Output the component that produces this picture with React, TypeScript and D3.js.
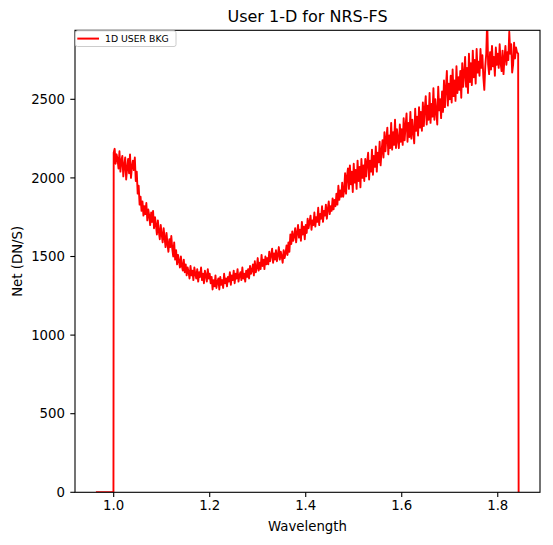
import React from "react";
import * as d3 from "d3";

// ---- data ----
const TITLE = "User 1-D for NRS-FS";
const X_LABEL = "Wavelength";
const Y_LABEL = "Net (DN/S)";
const SERIES_NAME = "1D USER BKG";

const X_TICKS = [1.0, 1.2, 1.4, 1.6, 1.8];
const Y_TICKS = [0, 500, 1000, 1500, 2000, 2500];
const X_DOMAIN = [0.9194, 1.888];
const Y_DOMAIN = [0, 2939];

// leading zero segment before the detector coverage
const LEAD_WAVE = [0.963, 0.9995];
const LEAD_NET = [0, 0];

// sampled spectrum, 1.000 .. 1.838 on the 0.002 wavelength grid
const WAVE_START = 1.0;
const WAVE_STEP = 0.002;
const NET = [
  2160, 2185, 2090, 2150, 2120, 2060, 2170, 2040, 2110, 2140, 2010, 2080, 2130, 1990, 2060, 2120, 2030, 2150, 2000, 2070,
  2110, 2050, 2130, 1980, 2040, 1900, 1950, 1830, 1880, 1790, 1850, 1760, 1820, 1770, 1840, 1730, 1800, 1760, 1700, 1780,
  1720, 1790, 1680, 1750, 1700, 1640, 1730, 1660, 1610, 1700, 1640, 1590, 1680, 1620, 1560, 1650, 1580, 1530, 1610, 1560,
  1630, 1550, 1500, 1590, 1480, 1540, 1450, 1510, 1470, 1430, 1500, 1440, 1410, 1480, 1400, 1450, 1380, 1430, 1400, 1360,
  1440, 1380, 1410, 1350, 1430, 1390, 1360, 1420, 1340, 1400, 1370, 1430, 1350, 1390, 1330, 1410, 1380, 1340, 1420, 1360,
  1390, 1330, 1370, 1290, 1350, 1310, 1380, 1300, 1340, 1360, 1290, 1370, 1320, 1350, 1300, 1390, 1330, 1360, 1310, 1370,
  1340, 1400, 1320, 1380, 1350, 1410, 1330, 1390, 1360, 1420, 1340, 1380, 1400, 1350, 1430, 1360, 1390, 1340, 1410, 1370,
  1420, 1360, 1440, 1390, 1410, 1450, 1380, 1470, 1400, 1430, 1490, 1410, 1460, 1420, 1510, 1440, 1480, 1420, 1500, 1450,
  1490, 1450, 1530, 1470, 1510, 1550, 1460, 1520, 1480, 1540, 1470, 1510, 1560, 1480, 1530, 1500, 1460, 1540, 1490, 1520,
  1570, 1510, 1590, 1530, 1640, 1580, 1660, 1600, 1630, 1680, 1590, 1650, 1700, 1620, 1670, 1600, 1720, 1640, 1690, 1610,
  1700, 1650, 1740, 1680, 1720, 1760, 1670, 1730, 1700, 1780, 1690, 1750, 1720, 1810, 1700, 1770, 1740, 1820, 1720, 1790,
  1760, 1830, 1740, 1800, 1850, 1770, 1820, 1790, 1870, 1800, 1860, 1820, 1900, 1830, 1950, 1860, 1920, 1880, 1970, 1880,
  1920, 2030, 1900, 2010, 2060, 1930, 2080, 1960, 2040, 1910, 2090, 1970, 2050, 1930, 2110, 1980, 2070, 1940, 2120, 2000,
  2080, 1980, 2120, 2010, 2100, 2160, 1990, 2110, 2040, 2180, 2020, 2140, 2070, 2200, 2040, 2160, 2100, 2230, 2080, 2170,
  2240, 2130, 2290, 2170, 2250, 2320, 2150, 2270, 2190, 2350, 2180, 2290, 2210, 2370, 2190, 2310, 2240, 2190, 2340, 2230,
  2310, 2210, 2380, 2240, 2330, 2410, 2230, 2350, 2260, 2420, 2250, 2370, 2290, 2220, 2440, 2300, 2390, 2270, 2450, 2320,
  2420, 2300, 2480, 2330, 2440, 2520, 2340, 2460, 2370, 2540, 2350, 2470, 2390, 2570, 2370, 2500, 2420, 2340, 2580, 2430,
  2500, 2380, 2550, 2420, 2620, 2450, 2570, 2680, 2460, 2600, 2500, 2650, 2480, 2690, 2520, 2620, 2490, 2710, 2540, 2640,
  2560, 2680, 2510, 2730, 2580, 2660, 2770, 2580, 2700, 2540, 2790, 2610, 2730, 2590, 2810, 2640, 2750, 2600, 2820, 2670,
  2740, 2650, 2820, 2700, 2780, 2640, 2560, 2710, 2790, 3000, 2720, 2660, 2800, 2690, 2840, 2710, 2770, 2650, 2830, 2720,
  2790, 2700, 2850, 2730, 2680, 2810, 2660, 2760, 2840, 2720, 2800, 2750, 2930, 2790, 2850, 2670, 2720, 2860, 2760, 2830,
];

// trailing edge where the coverage ends
const TAIL_WAVE = [1.84, 1.8425, 1.8435];
const TAIL_NET = [2800, 2790, 0];

// ---- layout ----
const W = 553;
const H = 545;
const M = { left: 75, right: 540, top: 30.3, bottom: 492.3 };
const FONT = "'DejaVu Sans', sans-serif";
const RED = "#ff0000";

export default function App() {
  const x = d3.scaleLinear().domain(X_DOMAIN).range([M.left, M.right]);
  const y = d3.scaleLinear().domain(Y_DOMAIN).range([M.bottom, M.top]);

  const points: [number, number][] = [];
  LEAD_WAVE.forEach((w, i) => points.push([w, LEAD_NET[i]]));
  NET.forEach((v, i) => points.push([WAVE_START + i * WAVE_STEP, v]));
  TAIL_WAVE.forEach((w, i) => points.push([w, TAIL_NET[i]]));

  const line = d3
    .line<[number, number]>()
    .x((d) => x(d[0]))
    .y((d) => y(d[1]));

  const cx = (M.left + M.right) / 2;
  const cy = (M.top + M.bottom) / 2;

  return (
    <svg
      width={W}
      height={H}
      style={{ position: "absolute", left: 0, top: 0, background: "#fff" }}
      fontFamily={FONT}
    >
      <defs>
        <clipPath id="plotclip">
          <rect x={M.left} y={M.top} width={M.right - M.left} height={M.bottom - M.top} />
        </clipPath>
      </defs>
      <rect x={0} y={0} width={W} height={H} fill="#fff" />

      {/* data line */}
      <path
        d={line(points) || ""}
        fill="none"
        stroke={RED}
        strokeWidth={1.9}
        strokeLinejoin="round"
        clipPath="url(#plotclip)"
      />

      {/* spines */}
      <rect
        x={M.left}
        y={M.top}
        width={M.right - M.left}
        height={M.bottom - M.top}
        fill="none"
        stroke="#000"
        strokeWidth={1.1}
      />

      {/* x ticks */}
      {X_TICKS.map((t) => (
        <g key={"x" + t}>
          <line x1={x(t)} x2={x(t)} y1={M.bottom} y2={M.bottom + 4.7} stroke="#000" strokeWidth={1.1} />
          <text x={x(t)} y={M.bottom + 18} fontSize={13.3} textAnchor="middle" fill="#000">
            {t.toFixed(1)}
          </text>
        </g>
      ))}

      {/* y ticks */}
      {Y_TICKS.map((t) => (
        <g key={"y" + t}>
          <line x1={M.left - 4.7} x2={M.left} y1={y(t)} y2={y(t)} stroke="#000" strokeWidth={1.1} />
          <text x={M.left - 10} y={y(t)} dy="0.36em" fontSize={13.3} textAnchor="end" fill="#000">
            {t}
          </text>
        </g>
      ))}

      {/* labels */}
      <text x={cx} y={531} fontSize={13.3} textAnchor="middle" fill="#000">
        {X_LABEL}
      </text>
      <text
        transform={`translate(22,${cy}) rotate(-90)`}
        fontSize={13.3}
        textAnchor="middle"
        fill="#000"
      >
        {Y_LABEL}
      </text>
      <text x={cx} y={22} fontSize={16} textAnchor="middle" fill="#000">
        {TITLE}
      </text>

      {/* legend */}
      <g>
        <rect
          x={75.5}
          y={30.8}
          width={100.5}
          height={15.7}
          rx={2}
          fill="#fff"
          fillOpacity={0.8}
          stroke="#cccccc"
          strokeWidth={1}
        />
        <line x1={77.3} x2={99} y1={38.6} y2={38.6} stroke={RED} strokeWidth={2} />
        <text x={105} y={38.6} dy="0.36em" fontSize={9.3} fill="#000">
          {SERIES_NAME}
        </text>
      </g>
    </svg>
  );
}
